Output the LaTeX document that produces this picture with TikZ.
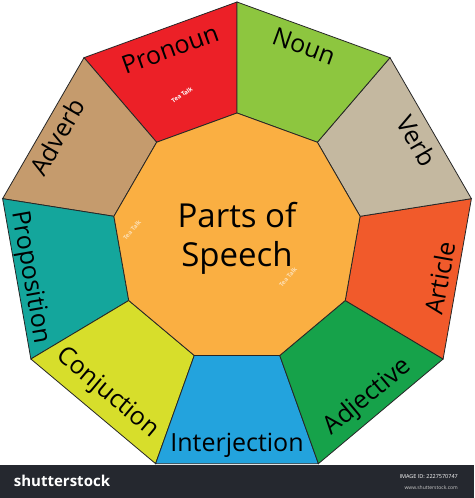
\documentclass[tikz,border=0pt]{standalone}
\usepackage{fontspec}
\setmainfont{Open Sans}
\definecolor{cPron}{HTML}{EC2027}
\definecolor{cAdv}{HTML}{C59B6D}
\definecolor{cProp}{HTML}{14A69C}
\definecolor{cConj}{HTML}{D7DE2B}
\definecolor{cInt}{HTML}{23A3DD}
\definecolor{cAdj}{HTML}{16A24A}
\definecolor{cArt}{HTML}{F15A2B}
\definecolor{cVerb}{HTML}{C4B8A0}
\definecolor{cNoun}{HTML}{8DC63F}
\definecolor{cCenter}{HTML}{FAAF42}
\definecolor{cBar}{HTML}{25282F}
\begin{document}
\begin{tikzpicture}[x=1pt,y=-1pt,
  sector/.style={draw=black!85,line width=0.8pt,line join=miter},
  lbl/.style={inner sep=0pt,font=\fontsize{25}{30}\selectfont,text=black},
  ctr/.style={inner sep=0pt,anchor=base,font=\fontsize{33}{40}\selectfont,text=black},
  tea/.style={inner sep=0pt,text=white,font=\fontsize{6}{7}\selectfont\bfseries},
  bartext/.style={inner sep=0pt,text=white}]
\useasboundingbox (0,0) rectangle (474,498);
\fill[white] (0,0) rectangle (474,498);
\foreach \k in {0,...,8} {
  \pgfmathsetmacro\a{90+40*\k}
  \coordinate (o\k) at ({237+238*cos(\a)},{240-238*sin(\a)});
  \coordinate (i\k) at ({237+125*cos(\a)},{238-125*sin(\a)});
}
\foreach \k/\c in {0/cPron,1/cAdv,2/cProp,3/cConj,4/cInt,5/cAdj,6/cArt,7/cVerb,8/cNoun} {
  \pgfmathtruncatemacro\n{mod(\k+1,9)}
  \filldraw[sector,fill=\c] (o\k) -- (o\n) -- (i\n) -- (i\k) -- cycle;
}
\filldraw[sector,fill=cCenter] (i0) -- (i1) -- (i2) -- (i3) -- (i4) -- (i5) -- (i6) -- (i7) -- (i8) -- cycle;
% labels
\node[lbl,rotate=20]  (pron) at (170,49)  {Pronoun};
\node[lbl,rotate=-20] (noun) at (304,46)  {Noun};
\node[lbl,rotate=-60] (verb) at (417,141) {Verb};
\node[lbl,rotate=80]  (art)  at (440,278) {Article};
\node[lbl,rotate=40]  (adj)  at (368,397) {Adjective};
\node[lbl]            (intj) at (237,445) {Interjection};
\node[lbl,rotate=-40] (conj) at (107,393) {Conjuction};
\node[lbl,rotate=-80] (prop) at (30,277)  {Proposition};
\node[lbl,rotate=60]  (adv)  at (57,137)  {Adverb};
\node[ctr] (t1) at (237,227) {Parts of};
\node[ctr] (t2) at (237,266) {Speech};
% small marks
\node[tea,rotate=35] (tk1) at (182,95) {Tea Talk};
\node[tea,rotate=50,opacity=0.6] (tk2) at (132,230) {Tea Talk};
\node[tea,rotate=50,opacity=0.6] (tk3) at (288,277) {Tea Talk};
% bottom bar
\fill[cBar] (0,465) rectangle (474,498);
\node[bartext,font=\fontsize{15}{18}\selectfont\bfseries] (ss) at (62,481) {shutterstock};
\node[bartext,anchor=east,font=\fontsize{5.5}{6}\selectfont] (iid) at (458,477) {IMAGE ID: 2227570747};
\node[bartext,anchor=east,text=white!80!black,font=\fontsize{5}{6}\selectfont] (www) at (458,488) {www.shutterstock.com};
\end{tikzpicture}
\end{document}
